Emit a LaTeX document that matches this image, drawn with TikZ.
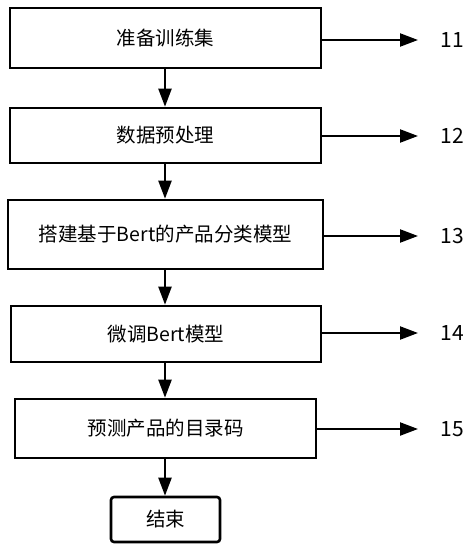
\documentclass[tikz,border=0pt]{standalone}
\usepackage{fontspec}
\setmainfont{Noto Sans CJK SC}
\usetikzlibrary{arrows.meta}
\begin{document}
\begin{tikzpicture}[x=1pt,y=-1pt,
  stepbox/.style={draw=black,line width=2.6pt,fill=white,inner sep=0pt,font=\fontsize{19.5}{22}\selectfont},
  arr/.style={line width=2.2pt,-{Triangle[length=18pt,width=13pt]}},
  lab/.style={font=\fontsize{21}{24}\selectfont,anchor=center}]
\useasboundingbox (0,0) rectangle (474,551);
\node[stepbox,minimum width=311pt,minimum height=60pt] (b1) at (165.5,38) {准备训练集};
\node[stepbox,minimum width=311pt,minimum height=55pt] (b2) at (165.5,135.5) {数据预处理};
\node[stepbox,minimum width=315pt,minimum height=69pt] (b3) at (165.5,234.5) {搭建基于Bert的产品分类模型};
\node[stepbox,minimum width=310pt,minimum height=56pt] (b4) at (166,334) {微调Bert模型};
\node[stepbox,minimum width=301pt,minimum height=59pt] (b5) at (165.5,428.5) {预测产品的目录码};
\node[stepbox,minimum width=109pt,minimum height=45pt,rounded corners=3pt] (b6) at (165.5,519.5) {结束};
\foreach \a/\b in {b1/b2,b2/b3,b3/b4,b4/b5,b5/b6}
  \draw[arr] (\a.south -| 165,0) -- (\b.north -| 165,0);
\foreach \n/\t/\y in {1/11/40,2/12/136,3/13/236,4/14/333,5/15/429}{
  \coordinate (e\n) at (418,\y);
  \node[lab] (l\n) at (452,\y) {\t};
  \draw[arr] (b\n.east |- e\n) -- (e\n);
}
\end{tikzpicture}
\end{document}
